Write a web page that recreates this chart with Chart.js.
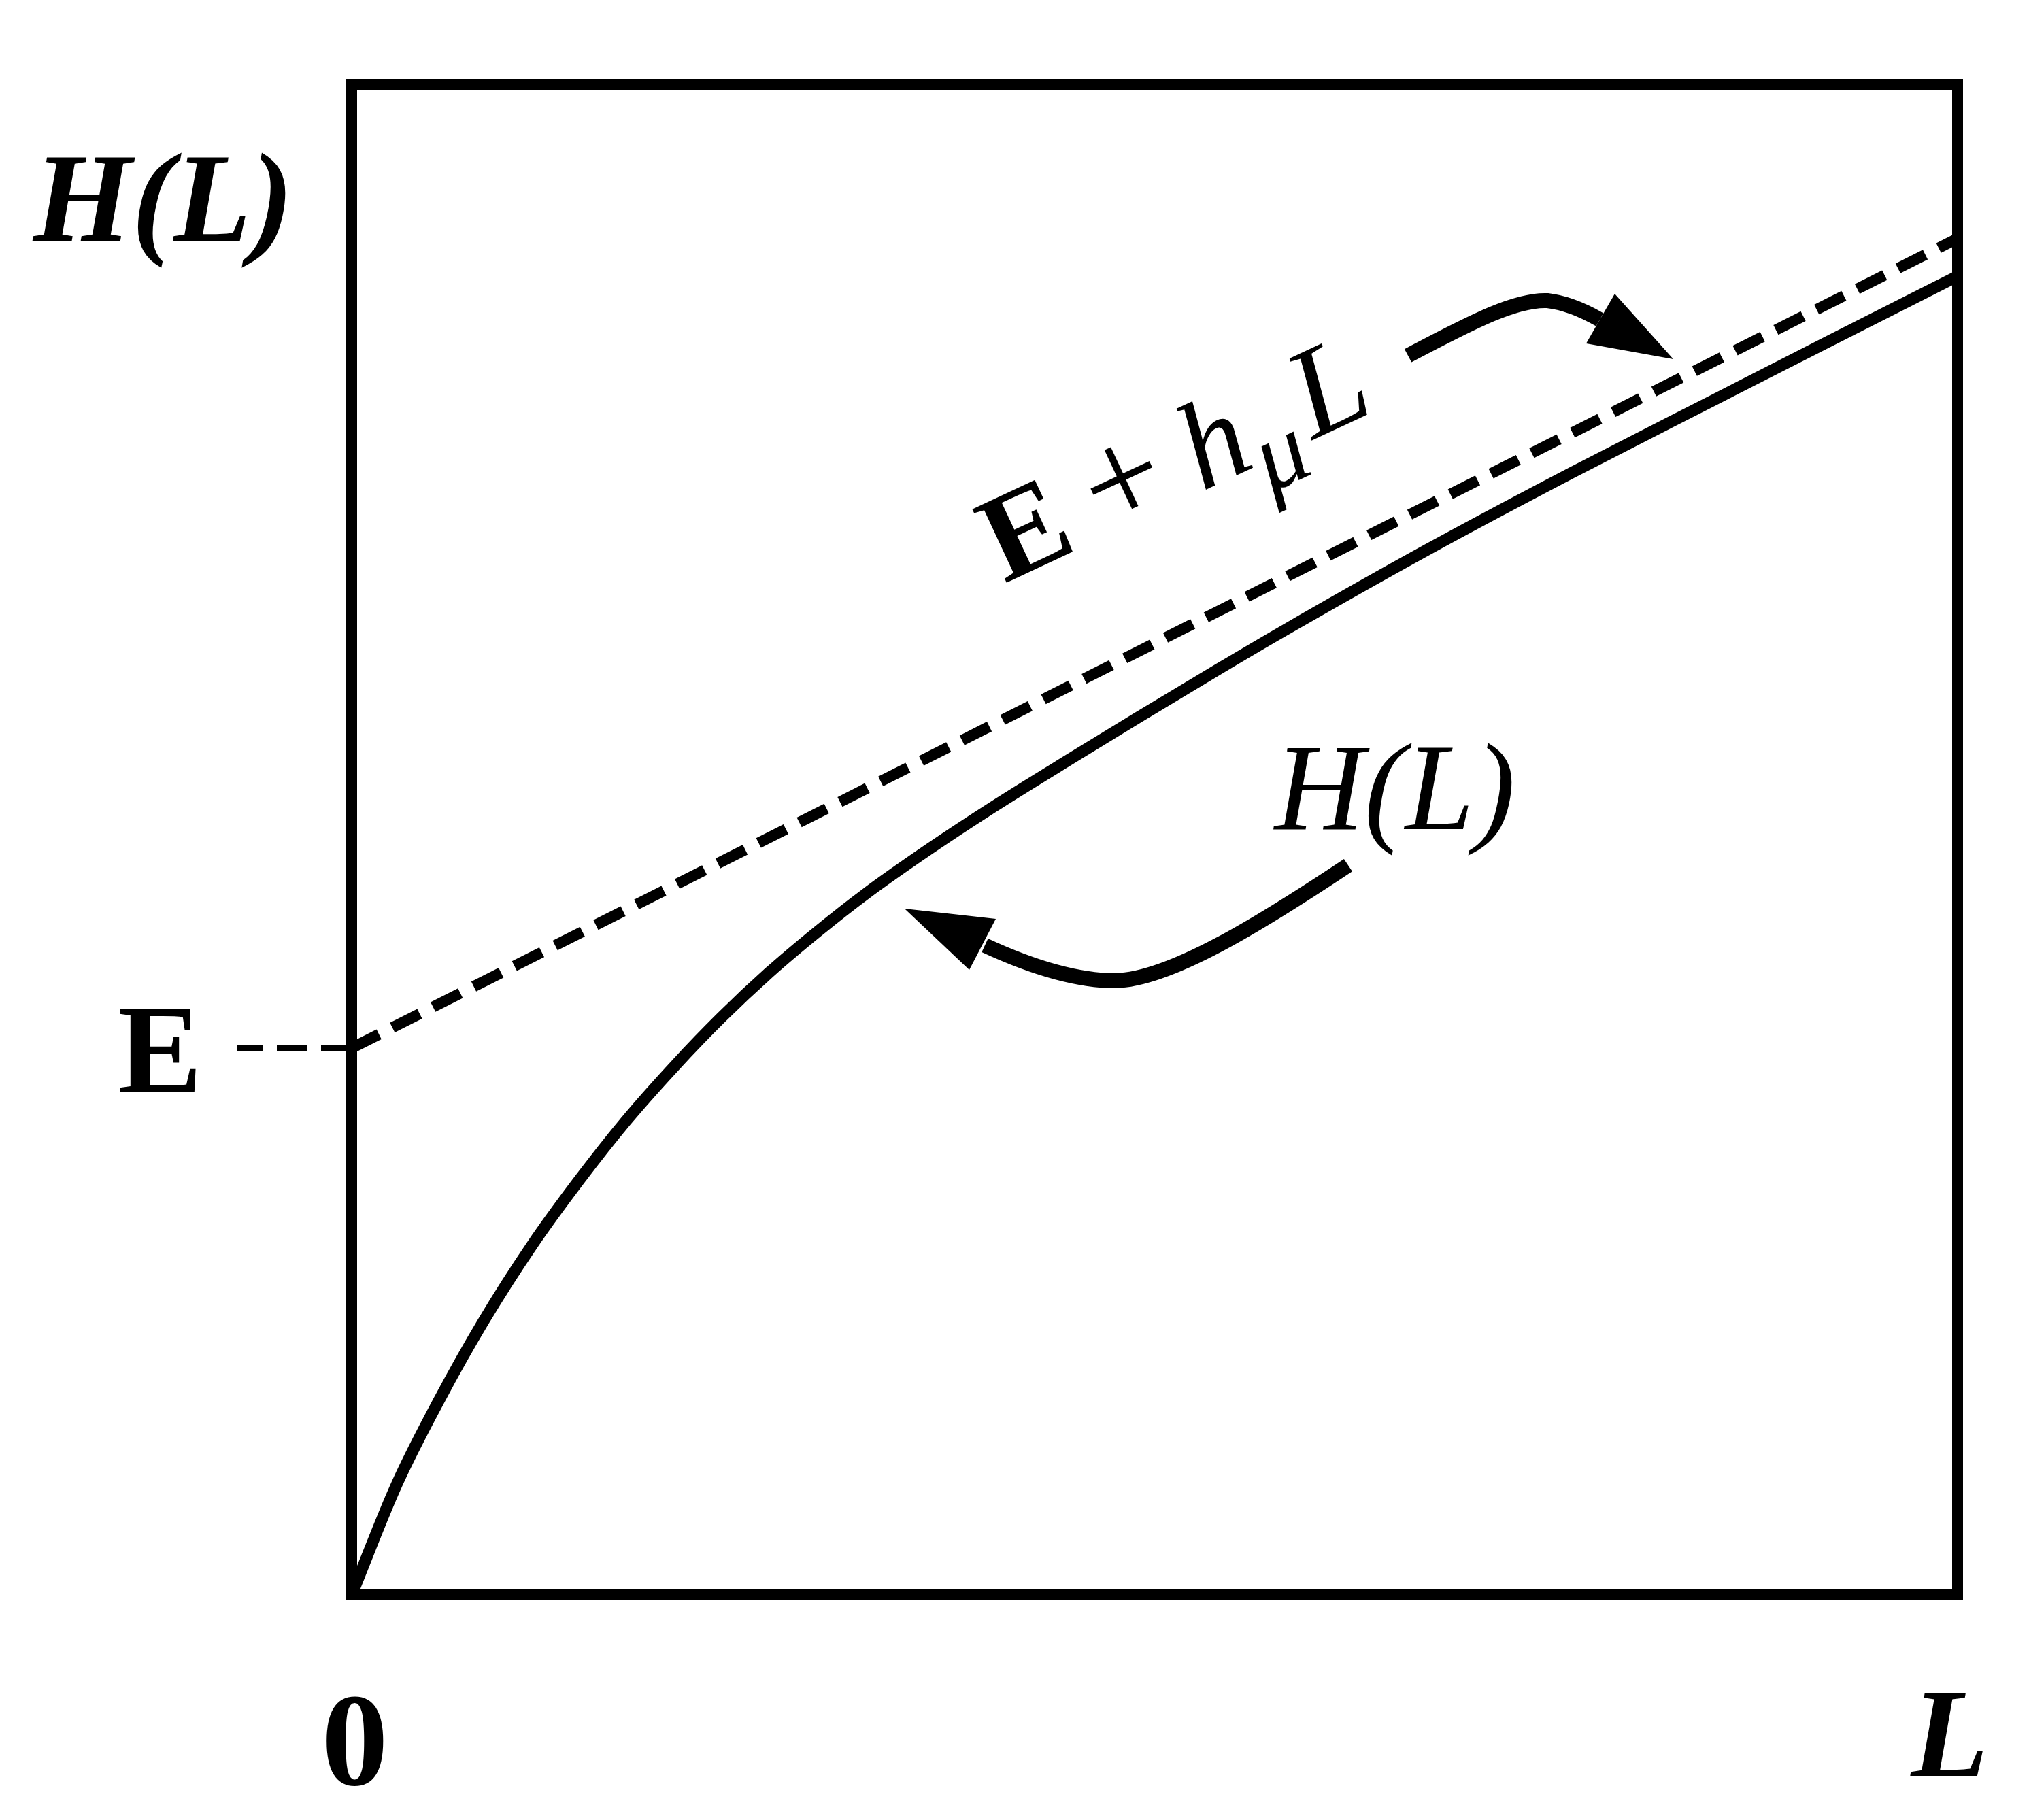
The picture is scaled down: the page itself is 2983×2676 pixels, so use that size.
<!DOCTYPE html>
<html>
<head>
<meta charset="utf-8">
<style>
  html, body { margin: 0; padding: 0; background: #fff; }
  canvas { display: block; }
</style>
<script src="https://cdn.jsdelivr.net/npm/chart.js@4.4.0/dist/chart.umd.min.js"></script>
</head>
<body>
<canvas id="myChart" width="2983" height="2676"></canvas>
<script>
// block length L (fraction of the axis) and block entropy H(L)
const lengthVals  = [0, 0.028, 0.055, 0.082, 0.112, 0.142, 0.171, 0.201, 0.230, 0.260, 0.290, 0.320, 0.360, 0.400, 0.450, 0.490, 0.540, 0.580, 0.670, 0.760, 0.850, 0.920, 1.0];
const entropyVals = [0, 0.073, 0.130, 0.181, 0.231, 0.275, 0.314, 0.350, 0.382, 0.412, 0.439, 0.464, 0.494, 0.522, 0.555, 0.581, 0.613, 0.638, 0.692, 0.743, 0.792, 0.830, 0.873];

// asymptote E + h_mu L
const excessEntropy = 0.362;
const entropyRate = 0.536;
const asymptoteX = [0, 1];

// little dashed tick from the E label to the axis
const eTickX = [0, -0.0712];

// tick labels under the x axis
const xTickVals = [0.002, 0.995];
const xTickLabels = ["0", "L"];

const SERIF = "'Liberation Serif', 'Times New Roman', Times, serif";
const canvas = document.getElementById("myChart");

// frame round the plot area
const framePlugin = {
  id: "frame",
  afterDatasetsDraw(chart) {
    const { ctx, chartArea: a } = chart;
    ctx.save();
    ctx.strokeStyle = "#000";
    ctx.lineWidth = 16;
    ctx.strokeRect(a.left, a.top, a.right - a.left, a.bottom - a.top);
    ctx.restore();
  },
};

// text labels and the two curved arrows
const labelPlugin = {
  id: "labels",
  afterDraw(chart) {
    const { ctx } = chart;
    const X = (v) => chart.scales.x.getPixelForValue(v);
    const Y = (v) => chart.scales.y.getPixelForValue(v);
    ctx.save();
    ctx.fillStyle = "#000";
    ctx.strokeStyle = "#000";
    ctx.textBaseline = "alphabetic";

    // y axis label
    ctx.textAlign = "center";
    ctx.font = "bold italic 186px " + SERIF;
    ctx.fillText("H(L)", X(-0.1173), Y(0.8964));

    // E on the axis
    ctx.font = "bold 186px " + SERIF;
    ctx.fillText("E", X(-0.1194), Y(0.3327));

    // x tick labels
    ctx.font = "bold 196px " + SERIF;
    ctx.fillText(xTickLabels[0], X(xTickVals[0]), Y(-0.1256));
    ctx.font = "bold italic 186px " + SERIF;
    ctx.fillText(xTickLabels[1], X(xTickVals[1]), Y(-0.120));

    // H(L) next to the curve
    ctx.font = "italic 182px " + SERIF;
    ctx.fillText("H(L)", X(0.6497), Y(0.507));

    // E + h_mu L along the asymptote
    ctx.save();
    ctx.translate(X(0.4066), Y(0.6695));
    ctx.rotate(-25 * Math.PI / 180);
    ctx.textAlign = "left";
    ctx.font = "bold 182px " + SERIF;
    ctx.fillText("E", 0, 0);
    ctx.textAlign = "center";
    ctx.font = "205px " + SERIF;
    ctx.fillText("+", 221, 0);
    ctx.textAlign = "left";
    ctx.font = "italic 182px " + SERIF;
    ctx.fillText("h", 320, 0);
    ctx.font = "italic 148px " + SERIF;
    ctx.fillText("\u03BC", 410, 45);
    ctx.font = "italic 188px " + SERIF;
    ctx.fillText("L", 500, 0);
    ctx.restore();

    // arrow pointing at the asymptote
    ctx.lineWidth = 22;
    ctx.lineCap = "butt";
    ctx.beginPath();
    ctx.moveTo(X(0.6578), Y(0.8204));
    ctx.bezierCurveTo(X(0.7001), Y(0.8442), X(0.7255), Y(0.8577), X(0.7446), Y(0.8568));
    ctx.quadraticCurveTo(X(0.7594), Y(0.8550), X(0.7772), Y(0.8442));
    ctx.stroke();
    ctx.beginPath();
    ctx.moveTo(X(0.8230), Y(0.8181));
    ctx.lineTo(X(0.7865), Y(0.8613));
    ctx.lineTo(X(0.7687), Y(0.8285));
    ctx.closePath();
    ctx.fill();

    // arrow pointing at the H(L) curve
    ctx.beginPath();
    ctx.moveTo(X(0.6205), Y(0.4831));
    ctx.bezierCurveTo(X(0.5646), Y(0.4435), X(0.5095), Y(0.4075), X(0.4756), Y(0.4066));
    ctx.quadraticCurveTo(X(0.4418), Y(0.4066), X(0.3943), Y(0.4300));
    ctx.stroke();
    ctx.beginPath();
    ctx.moveTo(X(0.3443), Y(0.4543));
    ctx.lineTo(X(0.4011), Y(0.4475));
    ctx.lineTo(X(0.3846), Y(0.4138));
    ctx.closePath();
    ctx.fill();

    ctx.restore();
  },
};

function drawChart() {
  const chart = new Chart(canvas, {
    type: "line",
    data: {
      datasets: [
        {
          label: "H(L)",
          data: lengthVals.map((l, i) => ({ x: l, y: entropyVals[i] })),
          borderColor: "#000",
          borderWidth: 17,
          pointRadius: 0,
          fill: false,
          cubicInterpolationMode: "monotone",
        },
        {
          label: "E + h L",
          data: asymptoteX.map((l) => ({ x: l, y: excessEntropy + entropyRate * l })),
          borderColor: "#000",
          borderWidth: 16,
          borderDash: [45, 22],
          pointRadius: 0,
          fill: false,
        },
        {
          label: "E",
          data: eTickX.map((l) => ({ x: l, y: excessEntropy })),
          borderColor: "#000",
          borderWidth: 9,
          borderDash: [45, 20],
          pointRadius: 0,
          fill: false,
          clip: false,
        },
      ],
    },
    options: {
      responsive: false,
      animation: false,
      layout: { padding: { left: 517, right: 105, top: 124, bottom: 331 } },
      scales: {
        x: { type: "linear", min: 0, max: 1, display: false },
        y: { type: "linear", min: 0, max: 1, display: false },
      },
      plugins: {
        legend: { display: false },
        tooltip: { enabled: false },
      },
    },
    plugins: [framePlugin, labelPlugin],
  });
  // redraw once fonts are surely in
  document.fonts.ready.then(() => chart.draw());
}

const fontSpecs = ["bold 100px 'Liberation Serif'", "italic 100px 'Liberation Serif'",
  "bold italic 100px 'Liberation Serif'", "100px 'Liberation Serif'"];
Promise.all(fontSpecs.map((f) => document.fonts.load(f)))
  .catch(() => {})
  .then(drawChart);
</script>
</body>
</html>
